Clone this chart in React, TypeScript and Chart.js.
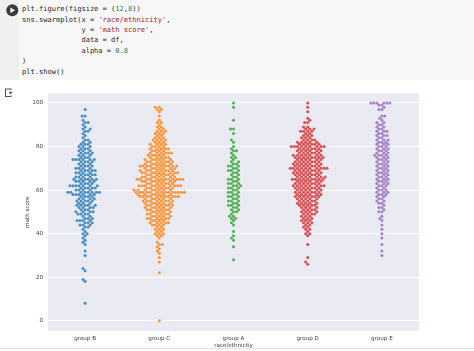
import React, { useEffect, useRef } from "react";
import { Chart, registerables } from "chart.js";

Chart.register(...registerables);

if (typeof document !== "undefined") {
  document.body.style.margin = "0";
}

// x categories (order as drawn)
const groups = ["group B", "group C", "group A", "group D", "group E"];
const yTicks = [0, 20, 40, 60, 80, 100];
const colors = [
  "rgba(31,119,180,0.8)",
  "rgba(255,127,14,0.8)",
  "rgba(44,160,44,0.8)",
  "rgba(214,39,40,0.8)",
  "rgba(148,103,189,0.8)",
];

// number of students per math score (index = score 0..100)
const groupBCounts = [
  0, 0, 0, 0, 0, 0, 0, 0, 1, 0,
  0, 0, 0, 0, 0, 0, 0, 0, 1, 1,
  0, 0, 0, 1, 1, 0, 0, 0, 0, 0,
  1, 0, 1, 0, 0, 1, 1, 1, 1, 1,
  2, 1, 1, 2, 3, 3, 4, 3, 2, 4,
  4, 3, 4, 5, 3, 5, 4, 4, 6, 8,
  4, 5, 7, 4, 5, 6, 4, 5, 4, 5,
  4, 4, 3, 4, 6, 3, 3, 4, 3, 3,
  3, 3, 2, 2, 1, 1, 1, 2, 2, 1,
  1, 2, 1, 0, 2, 0, 0, 1, 0, 0,
  0,
];
const groupCCounts = [
  1, 0, 0, 0, 0, 0, 0, 0, 0, 0,
  0, 0, 0, 0, 0, 0, 0, 0, 0, 0,
  0, 0, 1, 0, 0, 0, 0, 1, 0, 1,
  0, 1, 1, 1, 1, 2, 1, 0, 1, 2,
  3, 2, 3, 2, 4, 5, 4, 6, 5, 6,
  5, 6, 6, 7, 6, 8, 6, 11, 7, 14,
  8, 7, 11, 7, 8, 12, 8, 7, 9, 8,
  7, 10, 6, 7, 6, 5, 5, 6, 4, 5,
  4, 4, 3, 4, 3, 2, 3, 3, 2, 2,
  1, 2, 1, 0, 1, 0, 1, 2, 2, 0,
  0,
];
const groupACounts = [
  0, 0, 0, 0, 0, 0, 0, 0, 0, 0,
  0, 0, 0, 0, 0, 0, 0, 0, 0, 0,
  0, 0, 0, 0, 0, 0, 0, 0, 1, 0,
  0, 0, 0, 0, 1, 0, 0, 1, 1, 1,
  0, 1, 0, 0, 1, 1, 1, 2, 2, 1,
  2, 2, 2, 3, 2, 3, 2, 3, 2, 3,
  2, 3, 3, 3, 2, 3, 2, 2, 2, 3,
  2, 3, 2, 2, 1, 2, 1, 1, 2, 1,
  1, 0, 1, 1, 0, 0, 1, 0, 2, 0,
  0, 0, 1, 0, 0, 0, 0, 0, 1, 0,
  1,
];
const groupDCounts = [
  0, 0, 0, 0, 0, 0, 0, 0, 0, 0,
  0, 0, 0, 0, 0, 0, 0, 0, 0, 0,
  0, 0, 0, 0, 0, 0, 1, 1, 0, 1,
  0, 0, 0, 0, 0, 1, 0, 0, 0, 1,
  2, 1, 2, 2, 2, 3, 3, 3, 3, 4,
  4, 4, 4, 5, 5, 5, 5, 7, 6, 7,
  6, 7, 8, 7, 6, 9, 7, 7, 7, 7,
  10, 7, 7, 7, 6, 8, 7, 6, 6, 6,
  9, 6, 5, 4, 3, 3, 2, 4, 3, 2,
  0, 2, 1, 1, 0, 0, 1, 0, 1, 0,
  1,
];
const groupECounts = [
  0, 0, 0, 0, 0, 0, 0, 0, 0, 0,
  0, 0, 0, 0, 0, 0, 0, 0, 0, 0,
  0, 0, 0, 0, 0, 0, 0, 0, 0, 0,
  1, 0, 1, 0, 0, 1, 0, 0, 1, 0,
  1, 0, 1, 0, 1, 0, 1, 1, 1, 0,
  2, 1, 2, 1, 2, 2, 2, 2, 3, 3,
  3, 2, 3, 3, 3, 3, 3, 3, 3, 3,
  3, 3, 3, 3, 3, 3, 4, 3, 3, 3,
  3, 3, 3, 3, 2, 3, 2, 3, 2, 2,
  2, 2, 1, 1, 2, 0, 0, 2, 1, 2,
  6,
];
const groupCounts = [groupBCounts, groupCCounts, groupACounts, groupDCounts, groupECounts];

function expand(counts: number[]): number[] {
  const out: number[] = [];
  counts.forEach((c, score) => {
    for (let k = 0; k < c; k++) out.push(score);
  });
  return out;
}

// beeswarm layout (like seaborn): each point moved sideways until it no longer overlaps
function swarm(values: number[], center: number, pxX: number, pxY: number, d: number) {
  const sorted = [...values].sort((a, b) => a - b);
  const placed: { x: number; y: number }[] = [];
  const out: { x: number; y: number }[] = [];
  const d2 = d * d;
  for (const v of sorted) {
    const y = v * pxY;
    const neigh = placed.filter((p) => Math.abs(p.y - y) < d);
    const cands = [0];
    for (const n of neigh) {
      const dx = Math.sqrt(Math.max(0, d2 - (n.y - y) * (n.y - y)));
      cands.push(n.x - dx, n.x + dx);
    }
    cands.sort((a, b) => Math.abs(a) - Math.abs(b));
    let chosen = 0;
    for (const c of cands) {
      if (neigh.every((n) => (n.x - c) * (n.x - c) + (n.y - y) * (n.y - y) >= d2 - 1e-6)) {
        chosen = c;
        break;
      }
    }
    placed.push({ x: chosen, y });
    out.push({ x: center + chosen / pxX, y: v });
  }
  return out;
}

const FONT = "'DejaVu Sans', sans-serif";
const DOT = 3.0;

const bgPlugin = {
  id: "bg",
  beforeDraw(chart: any) {
    const { ctx, chartArea } = chart;
    ctx.save();
    ctx.fillStyle = "#EAEAF2";
    ctx.fillRect(chartArea.left, chartArea.top, chartArea.right - chartArea.left, chartArea.bottom - chartArea.top);
    ctx.restore();
  },
};

function SwarmChart() {
  const ref = useRef<HTMLCanvasElement | null>(null);
  useEffect(() => {
    if (!ref.current) return;
    const chart = new Chart(ref.current, {
      type: "scatter",
      data: {
        datasets: groups.map((g, i) => ({
          label: g,
          data: [] as { x: number; y: number }[],
          backgroundColor: colors[i],
          borderWidth: 0,
          pointRadius: DOT / 2,
          pointHoverRadius: DOT / 2,
        })),
      },
      options: {
        animation: false,
        responsive: false,
        events: [],
        layout: { padding: { left: 24.6, top: 7, right: 55, bottom: 1.6 } },
        plugins: { legend: { display: false }, tooltip: { enabled: false } },
        scales: {
          x: {
            type: "linear",
            min: -0.5,
            max: 4.5,
            afterBuildTicks: (s: any) => {
              s.ticks = groups.map((_, i) => ({ value: i }));
            },
            afterFit: (s: any) => {
              s.height = 18.4;
            },
            grid: { display: false, drawTicks: false },
            border: { display: false },
            ticks: {
              callback: (v: any) => groups[Math.round(v)] ?? "",
              font: { family: FONT, size: 5.6 },
              color: "#3a3a3a",
              padding: 4,
              maxRotation: 0,
              autoSkip: false,
            },
            title: {
              display: true,
              text: "race/ethnicity",
              font: { family: FONT, size: 5.6 },
              color: "#3a3a3a",
              padding: 0,
            },
          },
          y: {
            type: "linear",
            min: -4.7,
            max: 104.4,
            afterBuildTicks: (s: any) => {
              s.ticks = yTicks.map((v) => ({ value: v }));
            },
            afterFit: (s: any) => {
              s.width = 23.4;
            },
            grid: { color: "#ffffff", lineWidth: 1, drawTicks: false },
            border: { display: false },
            ticks: {
              font: { family: FONT, size: 5.6 },
              color: "#3a3a3a",
              padding: 5,
            },
            title: {
              display: true,
              text: "math score",
              font: { family: FONT, size: 5.6 },
              color: "#3a3a3a",
              padding: 0,
            },
          },
        },
      },
      plugins: [bgPlugin],
    } as any);

    const xs: any = chart.scales.x;
    const ys: any = chart.scales.y;
    const pxX = Math.abs(xs.getPixelForValue(1) - xs.getPixelForValue(0));
    const pxY = Math.abs(ys.getPixelForValue(0) - ys.getPixelForValue(1));
    groupCounts.forEach((counts, i) => {
      (chart.data.datasets[i] as any).data = swarm(expand(counts), i, pxX, pxY, DOT);
    });
    chart.update("none");
    return () => chart.destroy();
  }, []);
  return (
    <canvas
      ref={ref}
      width={474}
      height={266}
      style={{ position: "absolute", left: 0, top: 85, width: 474, height: 266 }}
    />
  );
}

const kw: React.CSSProperties = { color: "#1f1f1f" };
const str: React.CSSProperties = { color: "#a31515" };
const num: React.CSSProperties = { color: "#098658" };

export default function App() {
  return (
    <div
      style={{
        position: "relative",
        width: 474,
        height: 351,
        background: "#ffffff",
        overflow: "hidden",
      }}
    >
      {/* code cell */}
      <div style={{ position: "absolute", left: 0, top: 0, width: 19, height: 80, background: "#f0f0f0" }} />
      <div style={{ position: "absolute", left: 19, top: 0, width: 455, height: 80, background: "#f7f7f7" }} />
      <svg style={{ position: "absolute", left: 0, top: 0 }} width={24} height={24}>
        <circle cx={12.3} cy={10.2} r={6} fill="#3b3b3b" />
        <path d="M10.4 7.4 L15 10.2 L10.4 13 Z" fill="#ffffff" />
      </svg>
      <pre
        style={{
          position: "absolute",
          left: 22,
          top: 4.2,
          margin: 0,
          fontFamily: "'DejaVu Sans Mono', monospace",
          fontSize: 7.05,
          lineHeight: "10.4px",
          color: "#1f1f1f",
        }}
      >
        <span style={kw}>plt.figure(figsize = (</span>
        <span style={num}>12</span>
        <span style={kw}>,</span>
        <span style={num}>8</span>
        <span style={kw}>))</span>
        {"\n"}
        <span style={kw}>sns.swarmplot(x = </span>
        <span style={str}>'race/ethnicity'</span>
        <span style={kw}>,</span>
        {"\n"}
        <span style={kw}>{"              y = "}</span>
        <span style={str}>'math score'</span>
        <span style={kw}>,</span>
        {"\n"}
        <span style={kw}>{"              data = df,"}</span>
        {"\n"}
        <span style={kw}>{"              alpha = "}</span>
        <span style={num}>0.8</span>
        {"\n"}
        <span style={kw}>)</span>
        {"\n"}
        <span style={kw}>plt.show()</span>
      </pre>
      {/* output icon */}
      <svg style={{ position: "absolute", left: 0, top: 84 }} width={20} height={18}>
        <path d="M11 6 V5 H5.5 V12.5 H11 V11.5" fill="none" stroke="#555" strokeWidth={1.1} />
        <path d="M9.5 7 L12.8 8.8 L9.5 10.6 Z" fill="#555" />
      </svg>
      <SwarmChart />
      <div style={{ position: "absolute", left: 0, top: 348, width: 474, height: 1, background: "#e2e2e2" }} />
    </div>
  );
}
